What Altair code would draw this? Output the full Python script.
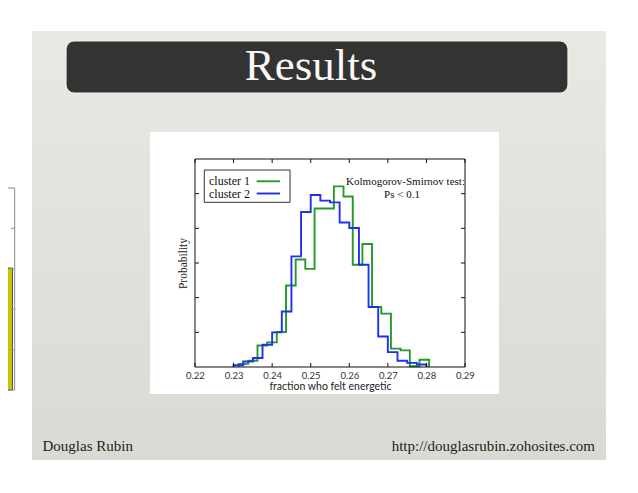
import altair as alt
import pandas as pd

# ---------------- data ----------------
blue_edges = [0.2300, 0.2325, 0.2350, 0.2375, 0.2400, 0.2425, 0.2450, 0.2475, 0.2500, 0.2525,
              0.2550, 0.2575, 0.2600, 0.2625, 0.2650, 0.2675, 0.2700, 0.2725, 0.2750, 0.2775, 0.2800]
blue_heights = [0.05, 0.16, 0.26, 0.64, 1.00, 1.60, 3.19, 4.47, 4.96, 4.80,
                4.75, 4.17, 4.01, 2.95, 1.73, 0.88, 0.43, 0.18, 0.12, 0.07]

green_edges = [0.2313, 0.2338, 0.2362, 0.2387, 0.2412, 0.2436, 0.2461, 0.2486, 0.2510, 0.2535,
               0.2560, 0.2585, 0.2609, 0.2634, 0.2659, 0.2683, 0.2708, 0.2733, 0.2757, 0.2782, 0.2807]
green_heights = [0.09, 0.18, 0.62, 0.71, 1.01, 2.35, 3.10, 2.83, 4.57, 4.57,
                 5.21, 4.92, 2.95, 3.55, 1.73, 1.54, 0.53, 0.48, 0.02, 0.21]

series_names = ["cluster 1", "cluster 2"]
series_colors = ["#239a2a", "#1f30ee"]

x_ticks = [0.22, 0.23, 0.24, 0.25, 0.26, 0.27, 0.28, 0.29]
y_ticks = [1, 2, 3, 4, 5]

slide_title = "Results"
x_title = "fraction who felt energetic"
y_title = "Probability"
ks_line1 = "Kolmogorov-Smirnov test:"
ks_line2 = "Ps < 0.1"
footer_left = "Douglas Rubin"
footer_right = "http://douglasrubin.zohosites.com"


def step_rows(name, edges, heights):
    rows = [{"x": edges[0], "y": 0.0, "series": name, "order": 0}]
    for i, h in enumerate(heights):
        rows.append({"x": edges[i], "y": h, "series": name, "order": i + 1})
    rows.append({"x": edges[-1], "y": 0.0, "series": name, "order": len(heights) + 1})
    return rows


hist_df = pd.DataFrame(step_rows(series_names[0], green_edges, green_heights)
                       + step_rows(series_names[1], blue_edges, blue_heights))
xt_df = pd.DataFrame({"x": x_ticks})
yt_df = pd.DataFrame({"y": y_ticks})

W, H = 270, 208
SERIF = "Liberation Serif"
SANS = "Lato"

x_scale = alt.Scale(domain=[0.22, 0.29], nice=False, zero=False)
y_scale = alt.Scale(domain=[0, 6], nice=False)
x_axis = alt.Axis(values=x_ticks, format=".2f", ticks=False, domain=False, grid=False,
                  labelFont=SANS, labelFontSize=9.5, labelColor="#333333", labelPadding=3,
                  titleFont=SANS, titleFontSize=10.5, titleColor="#222222", titlePadding=2,
                  titleFontWeight="normal", zindex=2, labelFlush=False)
y_axis = alt.Axis(labels=False, ticks=False, domain=False, grid=False,
                  titleFont=SERIF, titleFontSize=11.5, titleColor="#222222", titlePadding=7,
                  titleFontWeight="normal", zindex=2)


def X(field):
    return alt.X(field, type="quantitative", scale=x_scale, axis=x_axis, title=x_title)


def Y(field):
    return alt.Y(field, type="quantitative", scale=y_scale, axis=y_axis, title=y_title)


one = alt.Data(values=[{"a": 1}])


def box(x1, x2, y1, y2, **kw):
    return alt.Chart(one).mark_rect(**kw).encode(
        x=alt.value(x1), x2=alt.value(x2), y=alt.value(y1), y2=alt.value(y2))


def label(txt, x, y, **kw):
    return alt.Chart(one).mark_text(text=txt, **kw).encode(x=alt.value(x), y=alt.value(y))


def seg(x1, x2, y1, y2, **kw):
    return alt.Chart(one).mark_rule(**kw).encode(
        x=alt.value(x1), x2=alt.value(x2), y=alt.value(y1), y2=alt.value(y2))


# slide background
slide = box(-163, 411, -128, 301,
            color=alt.Gradient(gradient="linear", x1=0, x2=0, y1=0, y2=1,
                               stops=[alt.GradientStop(offset=0, color="#e9e8e3"),
                                      alt.GradientStop(offset=1, color="#dadad4")]))
title_bar = box(-129, 373, -118, -66, fill="#333333", stroke="#f3f1e4", strokeWidth=1.2,
                cornerRadius=8)
title_txt = label(slide_title, 116, -79, font=SERIF, fontSize=45, color="#f8f8f5",
                  align="center", baseline="alphabetic")
white_box = box(-45, 304, -27, 235, fill="#ffffff")
foot_l = label(footer_left, -152.5, 292, font=SERIF, fontSize=15, color="#222222",
               align="left", baseline="alphabetic")
foot_r = label(footer_right, 400, 292, font=SERIF, fontSize=15, color="#222222",
               align="right", baseline="alphabetic")

# neighbouring slide fragment at the left edge
frag = [
    box(-192, -182.5, 109, 231, fill="#c5c400", stroke="#555555", strokeWidth=1),
    seg(-180.3, -180.3, 29, 231, color="#8a8a8a", strokeWidth=1),
    seg(-190, -180.3, 29, 29, color="#8a8a8a", strokeWidth=1),
    seg(-190, -180.3, 231, 231, color="#8a8a8a", strokeWidth=1),
] + [seg(-184, -180.3, yy, yy, color="#8a8a8a", strokeWidth=1) for yy in (69.3, 110, 150.3, 191)]

# histogram
hist = alt.Chart(hist_df).mark_line(interpolate="step-after", strokeWidth=1.9).encode(
    x=X("x"), y=Y("y"),
    color=alt.Color("series:N", scale=alt.Scale(domain=series_names, range=series_colors),
                    legend=None),
    order=alt.Order("order:Q"),
)

frame = box(0, W, 0, H, filled=False, stroke="#111111", strokeWidth=1)
tick_style = dict(color="#111111", strokeWidth=1)
xt_top = alt.Chart(xt_df).mark_rule(**tick_style).encode(x=X("x"), y=alt.value(0), y2=alt.value(4))
xt_bot = alt.Chart(xt_df).mark_rule(**tick_style).encode(x=X("x"), y=alt.value(H - 4), y2=alt.value(H))
yt_left = alt.Chart(yt_df).mark_rule(**tick_style).encode(y=Y("y"), x=alt.value(0), x2=alt.value(4))
yt_right = alt.Chart(yt_df).mark_rule(**tick_style).encode(y=Y("y"), x=alt.value(W - 4), x2=alt.value(W))

# legend and annotation
leg_box = box(9.3, 95, 11, 43.3, filled=False, stroke="#333333", strokeWidth=1)
leg_t1 = label(series_names[0], 14, 26, font=SERIF, fontSize=12, color="#111111",
               align="left", baseline="alphabetic")
leg_t2 = label(series_names[1], 14, 39, font=SERIF, fontSize=12, color="#111111",
               align="left", baseline="alphabetic")
leg_l1 = seg(61.7, 85, 22.3, 22.3, color=series_colors[0], strokeWidth=1.9)
leg_l2 = seg(61.7, 85, 34.5, 34.5, color=series_colors[1], strokeWidth=1.9)
ks1 = label(ks_line1, 210.5, 25.5, font=SERIF, fontSize=11, color="#111111",
            align="center", baseline="alphabetic")
ks2 = label(ks_line2, 207, 38.5, font=SERIF, fontSize=11, color="#111111",
            align="center", baseline="alphabetic")

chart = alt.layer(
    slide, title_bar, title_txt, white_box, foot_l, foot_r, *frag,
    hist, frame, xt_top, xt_bot, yt_left, yt_right,
    leg_box, leg_t1, leg_t2, leg_l1, leg_l2, ks1, ks2,
).properties(
    width=W, height=H,
    autosize=alt.AutoSizeParams(type="none"),
    padding={"left": 187, "top": 151, "right": 160, "bottom": 110},
    background="#ffffff",
).configure_view(strokeWidth=0)

chart.save("out.html", embed_options={"renderer": "svg", "actions": False})
